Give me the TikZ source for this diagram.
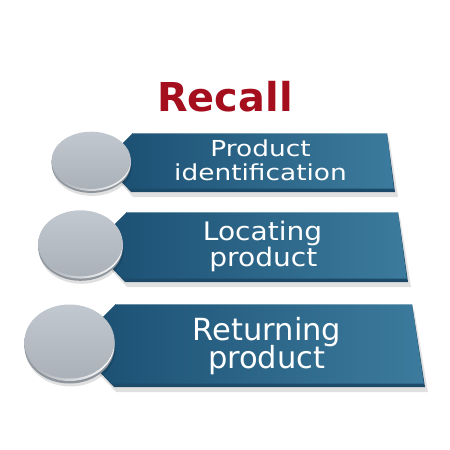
\documentclass[tikz,border=0pt]{standalone}
\usepackage{fontspec}
\setmainfont{DejaVu Sans}
\usepackage{graphicx}
\definecolor{bandL}{HTML}{1A4E71}
\definecolor{bandR}{HTML}{3C7B9D}
\definecolor{bandEdge}{HTML}{1C4A68}
\definecolor{discTop}{HTML}{C2C8CF}
\definecolor{discBot}{HTML}{AAB1B9}
\definecolor{rimGray}{HTML}{8E959D}
\definecolor{titleRed}{HTML}{A50E1C}
\newcommand\mybanner[5]{%
  \fill[black,opacity=.12] ({#3+2},{#1+5}) -- ({#4+2},{#1+5}) -- ({#5+3},{#2+5}) -- ({#3},{#2+5}) -- ({#3-(#2-#1)/2+2},{(#1+#2)/2+5}) -- cycle;
  \fill[bandEdge] (#3,#1) -- (#4,#1) -- (#5,#2) -- ({#3-2},#2) -- ({#3-(#2-#1)/2},{(#1+#2)/2}) -- cycle;
  \shade[left color=bandL,right color=bandR] (#3,#1) -- (#4,#1) -- ({#5-1.2},{#2-3.5}) -- ({#3-4},{#2-3.5}) -- ({#3-(#2-#1)/2},{(#1+#2)/2}) -- cycle;
  \draw[white,opacity=.35,line width=.6pt] (#3,{#1+.3}) -- ({#4-.3},{#1+.3});
}
\newcommand\mydisc[5]{%
  \fill[black,opacity=.12] ({#1+1},{#2+#5+3}) ellipse [x radius=#3, y radius=#4];
  \fill[rimGray] (#1,{#2+#5}) ellipse [x radius=#3, y radius=#4];
  \shade[left color=rimGray!80, right color=white] (#1,{#2+#5/2}) ellipse [x radius=#3, y radius=#4];
  \shade[top color=discTop, bottom color=discBot] (#1,#2) ellipse [x radius=#3, y radius=#4];
}
\tikzset{
  lbl/.style={text=white, inner sep=0pt, anchor=base},
}
\begin{document}
\begin{tikzpicture}[x=1pt,y=-1pt]
\fill[white] (0,0) rectangle (450,450);
\useasboundingbox (0,0) rectangle (450,450);
% title
\node[text=titleRed, inner sep=0pt, anchor=base, font=\fontsize{39.8}{44}\selectfont\bfseries] (title) at (225,111.7) {Recall};
% banners
\mybanner{133}{192}{133}{387}{395}
\mybanner{212}{282}{127}{398}{408}
\mybanner{304}{387}{116}{412}{425}
% discs
\mydisc{91.2}{160.3}{39.5}{28.6}{4}
\mydisc{80.5}{243.3}{42.2}{33}{4.5}
\mydisc{69.5}{341.5}{45}{37}{5}
% texts
\node[lbl, font=\fontsize{22}{24}\selectfont] (t1a) at (260.5,156.7) {\scalebox{1.2}[1]{Product}};
\node[lbl, font=\fontsize{22}{24}\selectfont] (t1b) at (260.5,180) {\scalebox{1.2}[1]{identification}};
\node[lbl, font=\fontsize{25.5}{28}\selectfont] (t2a) at (262.5,240.5) {\scalebox{1.1}[1]{Locating}};
\node[lbl, font=\fontsize{25.5}{28}\selectfont] (t2b) at (263.3,266.7) {\scalebox{1.1}[1]{product}};
\node[lbl, font=\fontsize{30.5}{33}\selectfont] (t3a) at (267,340) {Returning};
\node[lbl, font=\fontsize{30.5}{33}\selectfont] (t3b) at (266.7,368) {product};
\end{tikzpicture}
\end{document}
